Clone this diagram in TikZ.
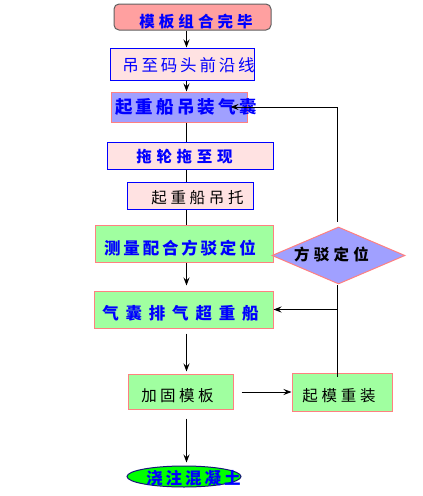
\documentclass[tikz,border=0pt]{standalone}
\usepackage{fontspec}
\newfontfamily\cjk{Noto Sans CJK SC}
\usetikzlibrary{shapes.geometric,arrows.meta}
\definecolor{toppink}{RGB}{255,160,160}
\definecolor{palepink}{RGB}{255,226,226}
\definecolor{peri}{RGB}{160,160,255}
\definecolor{salmon}{RGB}{255,128,128}
\definecolor{lgreen}{RGB}{160,255,160}
\definecolor{egreen}{RGB}{0,255,0}
\definecolor{navy}{RGB}{20,20,120}
\definecolor{tblue}{RGB}{0,0,255}
\definecolor{topedge}{RGB}{96,96,96}
\makeatletter
\newcommand\spc[2]{\def\sp@g{#1}\sp@loop#2\relax}
\def\sp@loop#1{\ifx\relax#1\unskip\else#1\hspace{\sp@g}\expandafter\sp@loop\fi}
\makeatother
\tikzset{
  boxbase/.style={draw, line width=1pt, inner sep=0pt, rectangle},
  pinkbox/.style={boxbase, fill=palepink, draw=tblue},
  greenbox/.style={boxbase, fill=lgreen, draw=salmon},
  txt/.style={inner sep=0pt, font=\cjk},
  bluetxt/.style={txt, text=tblue, font=\cjk\bfseries},
  blacktxt/.style={txt, text=black},
  conn/.style={line width=0.9pt, black},
  arr/.style={conn, -{Stealth[length=8pt,width=6pt,inset=3pt]}},
}
\begin{document}
\begin{tikzpicture}[x=1pt,y=-1pt]
\useasboundingbox (0,0) rectangle (423,496);
\fill[white] (0,0) rectangle (423,496);
% coordinates for connector columns
\coordinate (mx) at (186.5,0);
\coordinate (rx) at (337.5,0);
% boxes
\node[boxbase, fill=toppink, draw=topedge, rounded corners=5pt, minimum width=157, minimum height=26] (top) at (192.5,17) {};
\node[pinkbox, minimum width=144, minimum height=32] (b2) at (182,64) {};
\node[boxbase, fill=peri, draw=salmon, minimum width=136, minimum height=30] (b3) at (179,107) {};
\node[pinkbox, minimum width=166, minimum height=27] (b4) at (190,155.5) {};
\node[pinkbox, minimum width=126, minimum height=27] (b5) at (190,195.5) {};
\node[greenbox, minimum width=178, minimum height=37] (b6) at (184,243.5) {};
\node[diamond, draw=salmon, fill=peri, line width=1pt, inner sep=0pt, minimum width=133, minimum height=57] (dia) at (338.5,255.5) {};
\node[greenbox, minimum width=179, minimum height=37] (b7) at (183.5,309.5) {};
\node[greenbox, minimum width=105, minimum height=35] (b8) at (180.5,391.5) {};
\node[greenbox, minimum width=100, minimum height=38] (b9) at (342,392) {};
\node[ellipse, draw=navy, fill=egreen, line width=1pt, inner sep=0pt, minimum width=114, minimum height=21] (end) at (184,476.5) {};
% texts
\node[bluetxt, font=\cjk\bfseries\fontsize{15.5}{15.5}\selectfont] (t1) at (196,22) {\spc{4.1pt}{模板组合完毕}};
\node[txt, text=tblue, font=\cjk\fontsize{16.5}{16.5}\selectfont] (t2) at (188.5,65) {\spc{2.8pt}{吊至码头前沿线}};
\node[bluetxt, font=\cjk\bfseries\fontsize{17.5}{17.5}\selectfont] (t3) at (186,107) {\spc{3.2pt}{起重船吊装气囊}};
\node[bluetxt, font=\cjk\bfseries\fontsize{15.5}{15.5}\selectfont] (t4) at (184.5,157) {\spc{4.7pt}{拖轮拖至现}};
\node[blacktxt, font=\cjk\fontsize{15.5}{15.5}\selectfont] (t5) at (197.5,198) {\spc{3.7pt}{起重船吊托}};
\node[bluetxt, font=\cjk\bfseries\fontsize{16.5}{16.5}\selectfont] (t6) at (180,248) {\spc{2.8pt}{测量配合方驳定位}};
\node[blacktxt, font=\cjk\bfseries\fontsize{15.5}{15.5}\selectfont] (td) at (331.5,254) {\spc{4.2pt}{方驳定位}};
\node[bluetxt, font=\cjk\bfseries\fontsize{16.5}{16.5}\selectfont] (t7) at (180.5,313) {\spc{6.8pt}{气囊排气超重船}};
\node[blacktxt, font=\cjk\fontsize{15.5}{15.5}\selectfont] (t8) at (177.5,396) {\spc{3.5pt}{加固模板}};
\node[blacktxt, font=\cjk\fontsize{15.5}{15.5}\selectfont] (t9) at (339,396) {\spc{3.8pt}{起模重装}};
\node[bluetxt, font=\cjk\bfseries\fontsize{16.5}{16.5}\selectfont] (te) at (193.5,478) {\spc{3pt}{浇注混凝土}};
% connectors
\draw[arr] (top.south -| mx) -- (b2.north -| mx);
\draw[arr] (b2.south -| mx) -- (b3.north -| mx);
\draw[conn] (b3.south -| mx) -- (b4.north -| mx);
\draw[conn] (b4.south -| mx) -- (b5.north -| mx);
\draw[conn] (b5.south -| mx) -- (b6.north -| mx);
\draw[arr, shorten >=5pt] (b6.south -| mx) -- (b7.north -| mx);
\draw[arr, shorten <=5pt, shorten >=2pt] (b7.south -| mx) -- (b8.north -| mx);
\draw[arr, shorten <=9pt, shorten >=3pt] (b8.south -| mx) -- (end.north -| mx);
\draw[arr, shorten <=8pt] (b8.east |- b9.west) -- (b9.west);
\draw[conn] ([yshift=-4pt]b9.north -| rx) -- (dia.south -| rx);
\coordinate (br) at (b7.east -| rx);
\draw[arr] (br) -- (b7.east);
\coordinate (upr) at (b3.east -| rx);
\draw[conn] ([yshift=5pt]dia.north -| rx) -- (upr);
\draw[arr] (upr) -- ([xshift=-17pt]b3.east);
\end{tikzpicture}
\end{document}
